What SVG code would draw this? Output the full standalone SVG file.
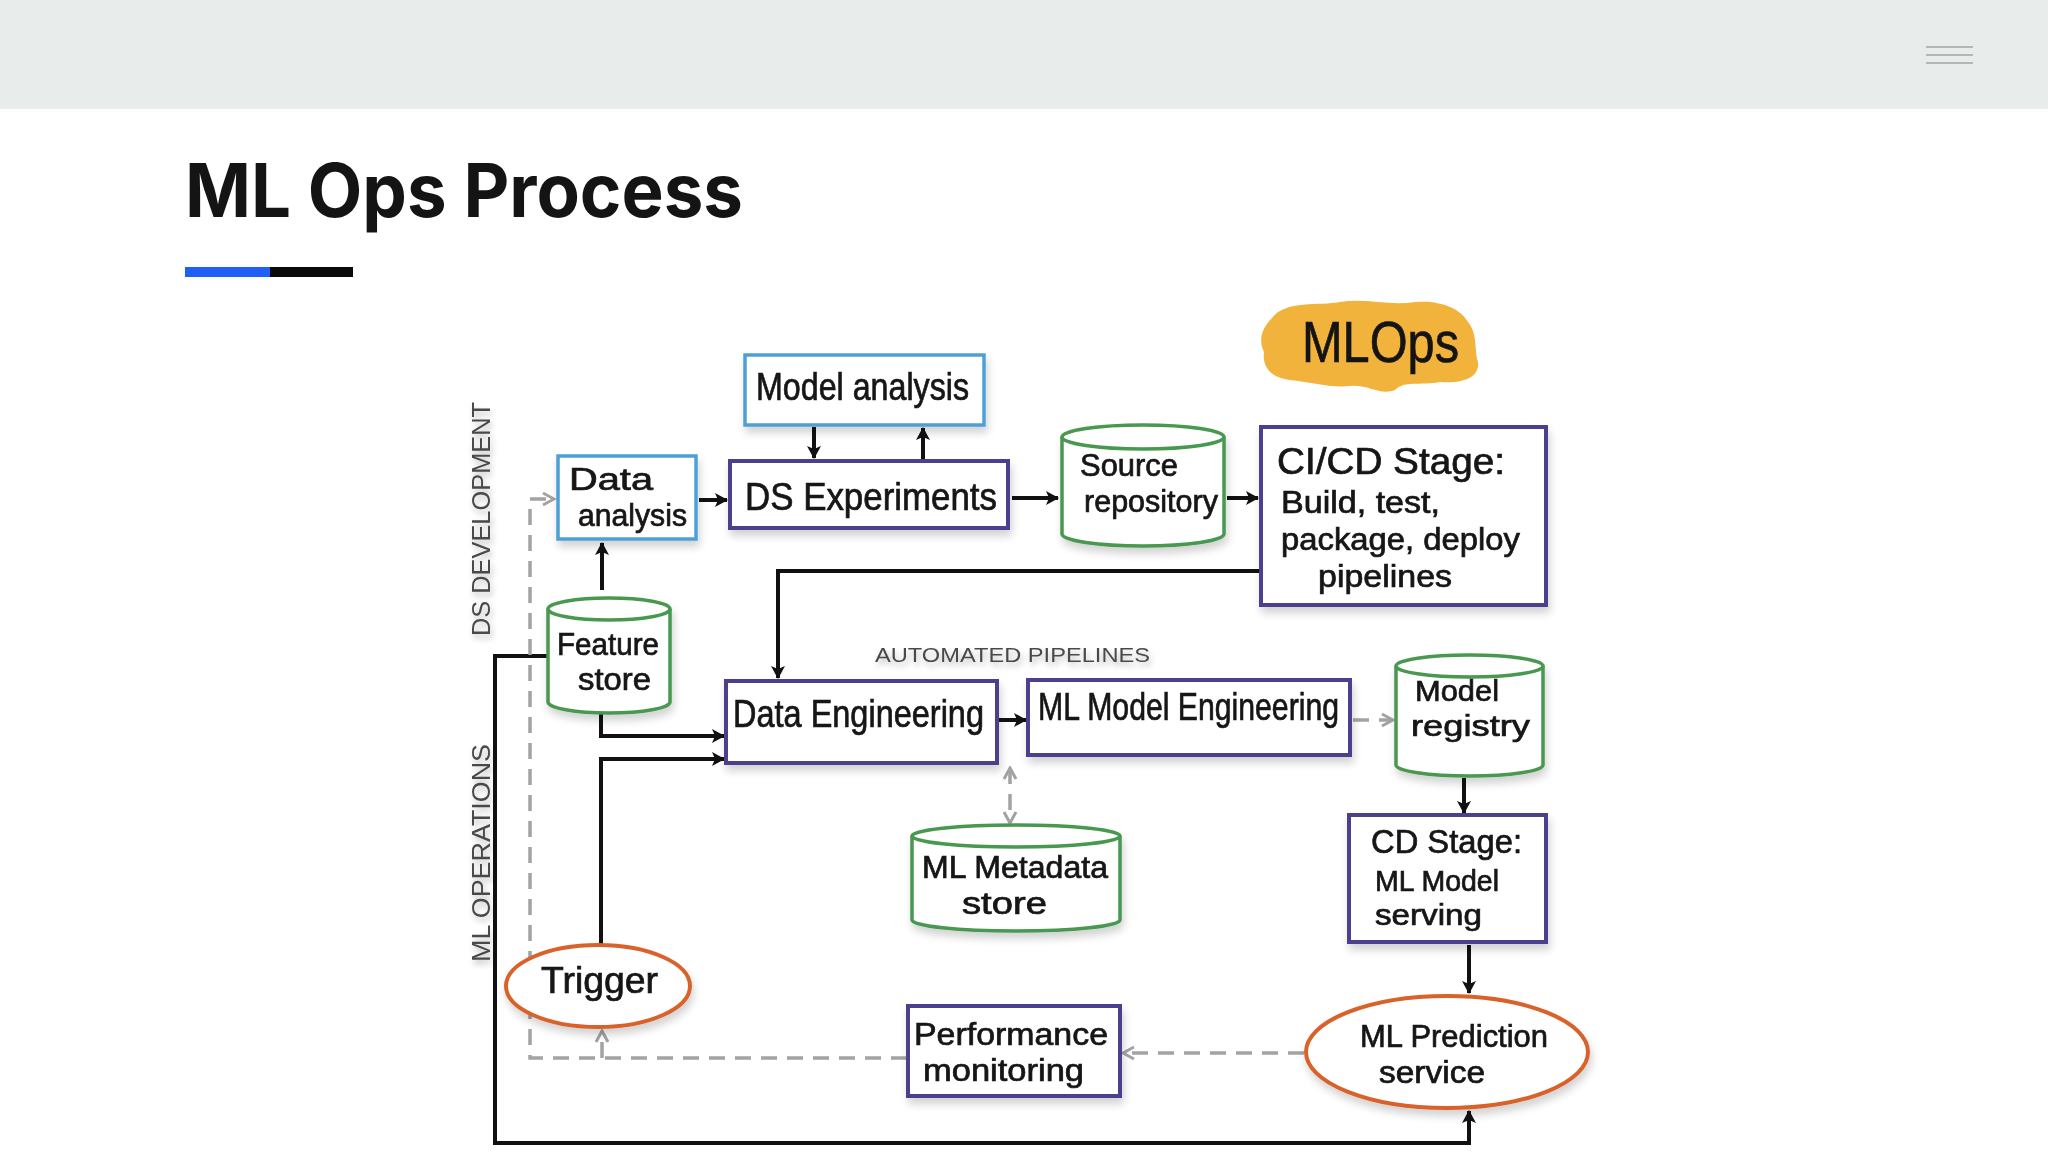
<svg xmlns="http://www.w3.org/2000/svg" width="2048" height="1152" viewBox="0 0 2048 1152">
<style>
.hand{font-family:"Liberation Sans","Arial",sans-serif;fill:#141414;stroke:#141414;stroke-width:0.7;}
.lbl{font-family:"Liberation Sans","DejaVu Sans",sans-serif;fill:#4a4a4a;}
.blue{fill:#fff;stroke:#4ea0d6;stroke-width:3.5;}
.purple{fill:#fff;stroke:#4b3f8e;stroke-width:4;}
.green{fill:#fff;stroke:#48984f;stroke-width:3.5;}
.orange{fill:#fff;stroke:#d8622a;stroke-width:4;}
.blk{fill:none;stroke:#111;stroke-width:4;}
.gry{fill:none;stroke:#a3a3a3;stroke-width:3.5;stroke-dasharray:16 10;}
</style>
<defs>
<filter id="sh" x="-10%" y="-10%" width="130%" height="140%">
<feGaussianBlur in="SourceAlpha" stdDeviation="4"/>
<feOffset dx="2" dy="6"/>
<feComponentTransfer><feFuncA type="linear" slope="0.18"/></feComponentTransfer>
<feMerge><feMergeNode/><feMergeNode in="SourceGraphic"/></feMerge>
</filter>
<filter id="ts" x="-10%" y="-20%" width="130%" height="160%">
<feGaussianBlur in="SourceAlpha" stdDeviation="3"/>
<feOffset dx="2" dy="4"/>
<feComponentTransfer><feFuncA type="linear" slope="0.28"/></feComponentTransfer>
<feMerge><feMergeNode/><feMergeNode in="SourceGraphic"/></feMerge>
</filter>
<marker id="ab" markerUnits="userSpaceOnUse" markerWidth="16" markerHeight="16" viewBox="0 0 16 16" refX="14" refY="8" orient="auto">
<path d="M2,1 L15,8 L2,15 L5,8 Z" fill="#111"/>
</marker>
<marker id="ag" markerUnits="userSpaceOnUse" markerWidth="16" markerHeight="16" viewBox="0 0 16 16" refX="14" refY="8" orient="auto-start-reverse">
<path d="M3,2 L14,8 L3,14" fill="none" stroke="#a3a3a3" stroke-width="3"/>
</marker>
</defs>

<rect x="0" y="0" width="2048" height="1152" fill="#ffffff"/>
<g id="header">
<rect x="0" y="0" width="2048" height="109" fill="#e8ecea"/>
<g stroke="#b3b7b7" stroke-width="2">
<line x1="1926" y1="47" x2="1973" y2="47"/>
<line x1="1926" y1="55" x2="1973" y2="55"/>
<line x1="1926" y1="63" x2="1973" y2="63"/>
</g>
</g>
<g id="title">
<text x="185" y="217" font-family="Inter,'Liberation Sans',sans-serif" font-weight="700" font-size="74" fill="#141414" textLength="558" lengthAdjust="spacingAndGlyphs">ML Ops Process</text>
<rect x="185" y="267" width="86" height="10" fill="#1f5ff5"/>
<rect x="270" y="267" width="83" height="10" fill="#0a0a0a"/>
</g>

<g id="connectors">
<line class="blk" x1="814" y1="427" x2="814" y2="458" marker-end="url(#ab)"/>
<line class="blk" x1="923" y1="461" x2="923" y2="428" marker-end="url(#ab)"/>
<line class="blk" x1="699" y1="500" x2="727" y2="500" marker-end="url(#ab)"/>
<line class="blk" x1="602" y1="590" x2="602" y2="543" marker-end="url(#ab)"/>
<line class="blk" x1="1012" y1="498" x2="1058" y2="498" marker-end="url(#ab)"/>
<line class="blk" x1="1227" y1="498" x2="1258" y2="498" marker-end="url(#ab)"/>
<path class="blk" d="M1260,571 H778 V678" marker-end="url(#ab)"/>
<path class="blk" d="M601,714 V736 H724" marker-end="url(#ab)"/>
<path class="blk" d="M601,945 V759 H724" marker-end="url(#ab)"/>
<line class="blk" x1="999" y1="720" x2="1026" y2="720" marker-end="url(#ab)"/>
<line class="gry" x1="1353" y1="720" x2="1393" y2="720" stroke-dasharray="12 8" marker-end="url(#ag)"/>
<line class="blk" x1="1464" y1="778" x2="1464" y2="813" marker-end="url(#ab)"/>
<line class="blk" x1="1469" y1="945" x2="1469" y2="993" marker-end="url(#ab)"/>
<path class="blk" d="M547,656 H495 V1143 H1469 V1111" marker-end="url(#ab)"/>
<line class="gry" x1="1304" y1="1053" x2="1123" y2="1053" marker-end="url(#ag)"/>
<path class="gry" d="M907,1058 H530 V499 H554" marker-end="url(#ag)"/>
<line class="gry" x1="602" y1="1058" x2="602" y2="1031" stroke-dasharray="none" marker-end="url(#ag)"/>
<line class="gry" x1="1010" y1="768" x2="1010" y2="823" stroke-dasharray="10 7" marker-start="url(#ag)" marker-end="url(#ag)"/>
</g>

<g id="lane-labels" filter="url(#ts)">
<text class="lbl" transform="translate(490,636) rotate(-90)" font-size="25" textLength="234" lengthAdjust="spacingAndGlyphs">DS DEVELOPMENT</text>
<text class="lbl" transform="translate(490,962) rotate(-90)" font-size="25" textLength="218" lengthAdjust="spacingAndGlyphs">ML OPERATIONS</text>
<text class="lbl" x="875" y="662" font-size="21" textLength="275" lengthAdjust="spacingAndGlyphs" fill="#333">AUTOMATED PIPELINES</text>
</g>

<g id="mlops-badge">
<path d="M1272,318 C1285,300 1320,306 1340,302 C1365,298 1390,306 1415,302 C1440,300 1460,308 1468,322 C1478,334 1474,350 1478,362 C1480,378 1462,384 1440,382 C1420,386 1405,380 1395,390 C1380,396 1368,384 1350,386 C1330,388 1310,382 1290,380 C1270,378 1262,366 1264,352 C1258,340 1262,328 1272,318 Z" fill="#f2b33d"/>
<text class="hand" x="1302" y="362" font-size="58" stroke-width="1.5" textLength="157" lengthAdjust="spacingAndGlyphs">MLOps</text>
</g>

<g id="model-analysis" filter="url(#sh)">
<rect class="blue" x="745" y="355" width="239" height="70"/>
<text class="hand" x="756" y="400" font-size="38" textLength="213" lengthAdjust="spacingAndGlyphs">Model analysis</text>
</g>

<g id="data-analysis" filter="url(#sh)">
<rect class="blue" x="558" y="456" width="138" height="83"/>
<text class="hand" x="569" y="490" font-size="31" textLength="84" lengthAdjust="spacingAndGlyphs">Data</text>
<text class="hand" x="578" y="526" font-size="31" textLength="109" lengthAdjust="spacingAndGlyphs">analysis</text>
</g>

<g id="ds-experiments" filter="url(#sh)">
<rect class="purple" x="730" y="461" width="278" height="67"/>
<text class="hand" x="745" y="510" font-size="38" textLength="252" lengthAdjust="spacingAndGlyphs">DS Experiments</text>
</g>

<g id="source-repository" filter="url(#sh)">
<path class="green" d="M1062,437 V534 A81,12 0 0 0 1224,534 V437"/>
<ellipse class="green" cx="1143" cy="437" rx="81" ry="12"/>
<text class="hand" x="1080" y="476" font-size="31" textLength="98" lengthAdjust="spacingAndGlyphs">Source</text>
<text class="hand" x="1084" y="512" font-size="31" textLength="134" lengthAdjust="spacingAndGlyphs">repository</text>
</g>

<g id="cicd-stage" filter="url(#sh)">
<rect class="purple" x="1261" y="427" width="285" height="178"/>
<text class="hand" x="1277" y="474" font-size="36" textLength="228" lengthAdjust="spacingAndGlyphs">CI/CD Stage:</text>
<text class="hand" x="1281" y="513" font-size="31" textLength="159" lengthAdjust="spacingAndGlyphs">Build, test,</text>
<text class="hand" x="1281" y="550" font-size="31" textLength="239" lengthAdjust="spacingAndGlyphs">package, deploy</text>
<text class="hand" x="1318" y="587" font-size="31" textLength="134" lengthAdjust="spacingAndGlyphs">pipelines</text>
</g>

<g id="feature-store" filter="url(#sh)">
<path class="green" d="M548,609 V702 A61,11 0 0 0 670,702 V609"/>
<ellipse class="green" cx="609" cy="609" rx="61" ry="11"/>
<text class="hand" x="557" y="655" font-size="31" textLength="102" lengthAdjust="spacingAndGlyphs">Feature</text>
<text class="hand" x="578" y="690" font-size="31" textLength="73" lengthAdjust="spacingAndGlyphs">store</text>
</g>

<g id="data-engineering" filter="url(#sh)">
<rect class="purple" x="726" y="681" width="271" height="82"/>
<text class="hand" x="733" y="727" font-size="38" textLength="251" lengthAdjust="spacingAndGlyphs">Data Engineering</text>
</g>

<g id="ml-model-engineering" filter="url(#sh)">
<rect class="purple" x="1028" y="680" width="322" height="75"/>
<text class="hand" x="1038" y="720" font-size="38" textLength="301" lengthAdjust="spacingAndGlyphs">ML Model Engineering</text>
</g>

<g id="model-registry" filter="url(#sh)">
<path class="green" d="M1396,666 V765 A73.5,11 0 0 0 1543,765 V666"/>
<ellipse class="green" cx="1469.5" cy="666" rx="73.5" ry="11"/>
<text class="hand" x="1415" y="701" font-size="30" textLength="84" lengthAdjust="spacingAndGlyphs">Model</text>
<text class="hand" x="1411" y="736" font-size="30" textLength="119" lengthAdjust="spacingAndGlyphs">registry</text>
</g>

<g id="ml-metadata-store" filter="url(#sh)">
<path class="green" d="M912,836 V920 A104,11 0 0 0 1120,920 V836"/>
<ellipse class="green" cx="1016" cy="836" rx="104" ry="11"/>
<text class="hand" x="922" y="878" font-size="31" textLength="186" lengthAdjust="spacingAndGlyphs">ML Metadata</text>
<text class="hand" x="962" y="914" font-size="31" textLength="85" lengthAdjust="spacingAndGlyphs">store</text>
</g>

<g id="cd-stage" filter="url(#sh)">
<rect class="purple" x="1349" y="815" width="197" height="127"/>
<text class="hand" x="1371" y="853" font-size="34" textLength="151" lengthAdjust="spacingAndGlyphs">CD Stage:</text>
<text class="hand" x="1375" y="891" font-size="29" textLength="124" lengthAdjust="spacingAndGlyphs">ML Model</text>
<text class="hand" x="1375" y="925" font-size="29" textLength="107" lengthAdjust="spacingAndGlyphs">serving</text>
</g>

<g id="ml-prediction-service" filter="url(#sh)">
<ellipse class="orange" cx="1447" cy="1052" rx="141" ry="56"/>
<text class="hand" x="1360" y="1047" font-size="31" textLength="188" lengthAdjust="spacingAndGlyphs">ML Prediction</text>
<text class="hand" x="1379" y="1083" font-size="31" textLength="106" lengthAdjust="spacingAndGlyphs">service</text>
</g>

<g id="performance-monitoring" filter="url(#sh)">
<rect class="purple" x="908" y="1006" width="212" height="90"/>
<text class="hand" x="914" y="1045" font-size="31" textLength="194" lengthAdjust="spacingAndGlyphs">Performance</text>
<text class="hand" x="923" y="1081" font-size="31" textLength="161" lengthAdjust="spacingAndGlyphs">monitoring</text>
</g>

<g id="trigger" filter="url(#sh)">
<ellipse class="orange" cx="598" cy="986" rx="92" ry="41"/>
<text class="hand" x="541" y="993" font-size="36" textLength="117" lengthAdjust="spacingAndGlyphs">Trigger</text>
</g>
</svg>
